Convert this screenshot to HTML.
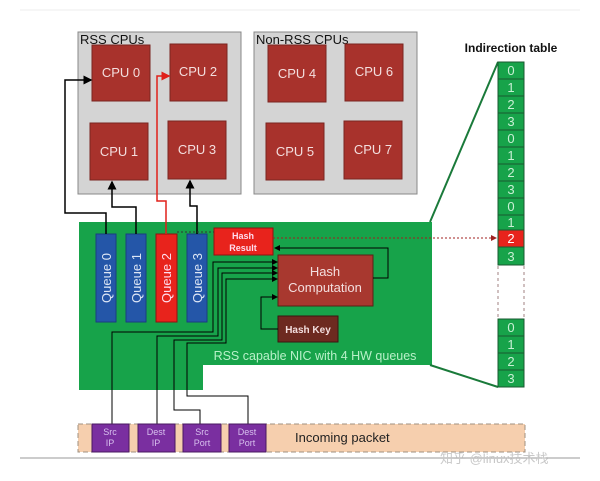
<!DOCTYPE html>
<html><head><style>body{margin:0;background:#fff}svg{display:block}</style></head><body>
<svg width="600" height="481" viewBox="0 0 600 481" xmlns="http://www.w3.org/2000/svg" font-family="Liberation Sans, Noto Sans CJK SC, sans-serif">
<defs>
<marker id="a" markerWidth="6" markerHeight="6" refX="5" refY="3" orient="auto"><path d="M0,0 L6,3 L0,6z" fill="#000"/></marker>
<marker id="r" markerWidth="6" markerHeight="6" refX="5" refY="3" orient="auto"><path d="M0,0 L6,3 L0,6z" fill="#e0201a"/></marker>
<marker id="d" markerWidth="6" markerHeight="6" refX="5" refY="3" orient="auto"><path d="M0,0 L6,3 L0,6z" fill="#a02020"/></marker>
</defs>
<line x1="20" y1="10" x2="580" y2="10" stroke="#eee"/>
<!-- CPU groups -->
<rect x="78" y="32" width="163" height="162" fill="#d4d4d4" stroke="#888"/>
<rect x="254" y="32" width="163" height="162" fill="#d4d4d4" stroke="#888"/>
<text x="80" y="44" font-size="13" fill="#111">RSS CPUs</text>
<text x="256" y="44" font-size="13" fill="#111">Non-RSS CPUs</text>
<g fill="#a8322c" stroke="#7a2520">
<rect x="92" y="45" width="58" height="56"/><rect x="170" y="44" width="57" height="57"/>
<rect x="90" y="123" width="58" height="57"/><rect x="168" y="121" width="58" height="58"/>
<rect x="268" y="45" width="58" height="57"/><rect x="345" y="44" width="58" height="57"/>
<rect x="266" y="123" width="58" height="57"/><rect x="344" y="121" width="58" height="58"/>
</g>
<g fill="#f3dede" font-size="13" text-anchor="middle">
<text x="121" y="77">CPU 0</text><text x="198" y="76">CPU 2</text>
<text x="119" y="156">CPU 1</text><text x="197" y="154">CPU 3</text>
<text x="297" y="78">CPU 4</text><text x="374" y="76">CPU 6</text>
<text x="295" y="156">CPU 5</text><text x="373" y="154">CPU 7</text>
</g>
<!-- NIC -->
<path d="M79,222 H432 V365 H203 V390 H79Z" fill="#17a34a"/>
<line x1="430" y1="222" x2="498" y2="62" stroke="#1a7a3a" stroke-width="2"/>
<line x1="430" y1="365" x2="498" y2="387" stroke="#1a7a3a" stroke-width="2"/>
<!-- queues -->
<g stroke="#1a3d80"><rect x="96" y="234" width="20" height="88" fill="#2456a8"/><rect x="126" y="234" width="20" height="88" fill="#2456a8"/><rect x="187" y="234" width="20" height="88" fill="#2456a8"/></g>
<rect x="156" y="234" width="21" height="88" fill="#e8231c" stroke="#901010"/>
<g fill="#dde6f5" font-size="13" text-anchor="middle">
<text transform="translate(111,278) rotate(-90)">Queue 0</text>
<text transform="translate(141,278) rotate(-90)">Queue 1</text>
<text transform="translate(171,278) rotate(-90)" fill="#fde">Queue 2</text>
<text transform="translate(202,278) rotate(-90)">Queue 3</text>
</g>
<rect x="214" y="228" width="59" height="27" fill="#e8231c" stroke="#901010"/>
<text x="243" y="239" font-size="9" font-weight="bold" fill="#fde" text-anchor="middle">Hash</text>
<text x="243" y="251" font-size="9" font-weight="bold" fill="#fde" text-anchor="middle">Result</text>
<rect x="278" y="255" width="95" height="51" fill="#a8382f" stroke="#5a2015"/>
<text x="325" y="276" font-size="13" fill="#f3dede" text-anchor="middle">Hash</text>
<text x="325" y="292" font-size="13" fill="#f3dede" text-anchor="middle">Computation</text>
<rect x="278" y="316" width="60" height="26" fill="#6d2a20" stroke="#3a1510"/>
<text x="308" y="333" font-size="10" font-weight="bold" fill="#f3dede" text-anchor="middle">Hash Key</text>
<text x="315" y="360" font-size="12.5" fill="#b8f0c8" text-anchor="middle">RSS capable NIC with 4 HW queues</text>
<!-- connectors to CPUs -->
<g fill="none" stroke="#000" stroke-width="1.5">
<path d="M106,234 V213 H65 V80 H91" marker-end="url(#a)"/>
<path d="M136,234 V207 H112 V182" marker-end="url(#a)"/>
<path d="M197,234 V206 H190 V181" marker-end="url(#a)"/>
</g>
<path d="M166,234 V201 H157 V76 H169" fill="none" stroke="#e0201a" stroke-width="1.5" marker-end="url(#r)"/>
<line x1="177" y1="232" x2="214" y2="232" stroke="#333" stroke-dasharray="2,2"/>
<line x1="273" y1="238" x2="496" y2="238" stroke="#a02020" stroke-dasharray="2,2" marker-end="url(#d)"/>
<!-- hash connectors -->
<g fill="none" stroke="#000" stroke-width="1" >
<path d="M373,278 H388 V248 H275" marker-end="url(#a)"/>
<path d="M278,329 H261 V297 H277" marker-end="url(#a)"/>
<path d="M112,424 V332 H213 V262 H277" marker-end="url(#a)"/>
<path d="M157,424 V336 H218 V268 H277" marker-end="url(#a)"/>
<path d="M200,424 V410 H174 V340 H222 V273 H277" marker-end="url(#a)"/>
<path d="M248,424 V396 H187 V343 H226 V279 H277" marker-end="url(#a)"/>
</g>
<!-- packet -->
<rect x="78" y="424" width="447" height="28" fill="#f6cfae" stroke="#a09080" stroke-dasharray="5,3"/>
<g fill="#7a2fa0" stroke="#4a1a60">
<rect x="92" y="424" width="37" height="28"/><rect x="138" y="424" width="37" height="28"/>
<rect x="183" y="424" width="38" height="28"/><rect x="229" y="424" width="37" height="28"/>
</g>
<g fill="#d8c0ee" font-size="9" text-anchor="middle">
<text x="110" y="435">Src</text><text x="110" y="446">IP</text>
<text x="156" y="435">Dest</text><text x="156" y="446">IP</text>
<text x="202" y="435">Src</text><text x="202" y="446">Port</text>
<text x="247" y="435">Dest</text><text x="247" y="446">Port</text>
</g>
<text x="295" y="442" font-size="13" fill="#222">Incoming packet</text>
<line x1="20" y1="458" x2="580" y2="458" stroke="#999"/>
<!-- indirection table -->
<text x="511" y="52" font-size="12" font-weight="bold" fill="#111" text-anchor="middle">Indirection table</text>
<g stroke="#1a5a30" fill="#17a34a">
<rect x="498" y="62" width="26" height="17"/><rect x="498" y="79" width="26" height="17"/>
<rect x="498" y="96" width="26" height="17"/><rect x="498" y="113" width="26" height="17"/>
<rect x="498" y="130" width="26" height="17"/><rect x="498" y="147" width="26" height="17"/>
<rect x="498" y="164" width="26" height="17"/><rect x="498" y="181" width="26" height="17"/>
<rect x="498" y="198" width="26" height="17"/><rect x="498" y="215" width="26" height="15"/>
<rect x="498" y="230" width="26" height="17" fill="#e8231c"/><rect x="498" y="247" width="26" height="18"/>
<rect x="498" y="319" width="26" height="17"/><rect x="498" y="336" width="26" height="17"/>
<rect x="498" y="353" width="26" height="17"/><rect x="498" y="370" width="26" height="17"/>
</g>
<g fill="none" stroke="#a08080" stroke-dasharray="3,3"><line x1="498" y1="266" x2="498" y2="318"/><line x1="524" y1="266" x2="524" y2="318"/></g>
<g fill="#c8f0d4" font-size="13" text-anchor="middle">
<text x="511" y="75">0</text><text x="511" y="92">1</text><text x="511" y="109">2</text><text x="511" y="126">3</text>
<text x="511" y="143">0</text><text x="511" y="160">1</text><text x="511" y="177">2</text><text x="511" y="194">3</text>
<text x="511" y="211">0</text><text x="511" y="227">1</text><text x="511" y="243" fill="#fff">2</text><text x="511" y="261">3</text>
<text x="511" y="332">0</text><text x="511" y="349">1</text><text x="511" y="366">2</text><text x="511" y="383">3</text>
</g>
<text x="440" y="463" font-size="13" fill="#c8c8c8">知乎 @linux技术栈</text>
</svg>
</body></html>
